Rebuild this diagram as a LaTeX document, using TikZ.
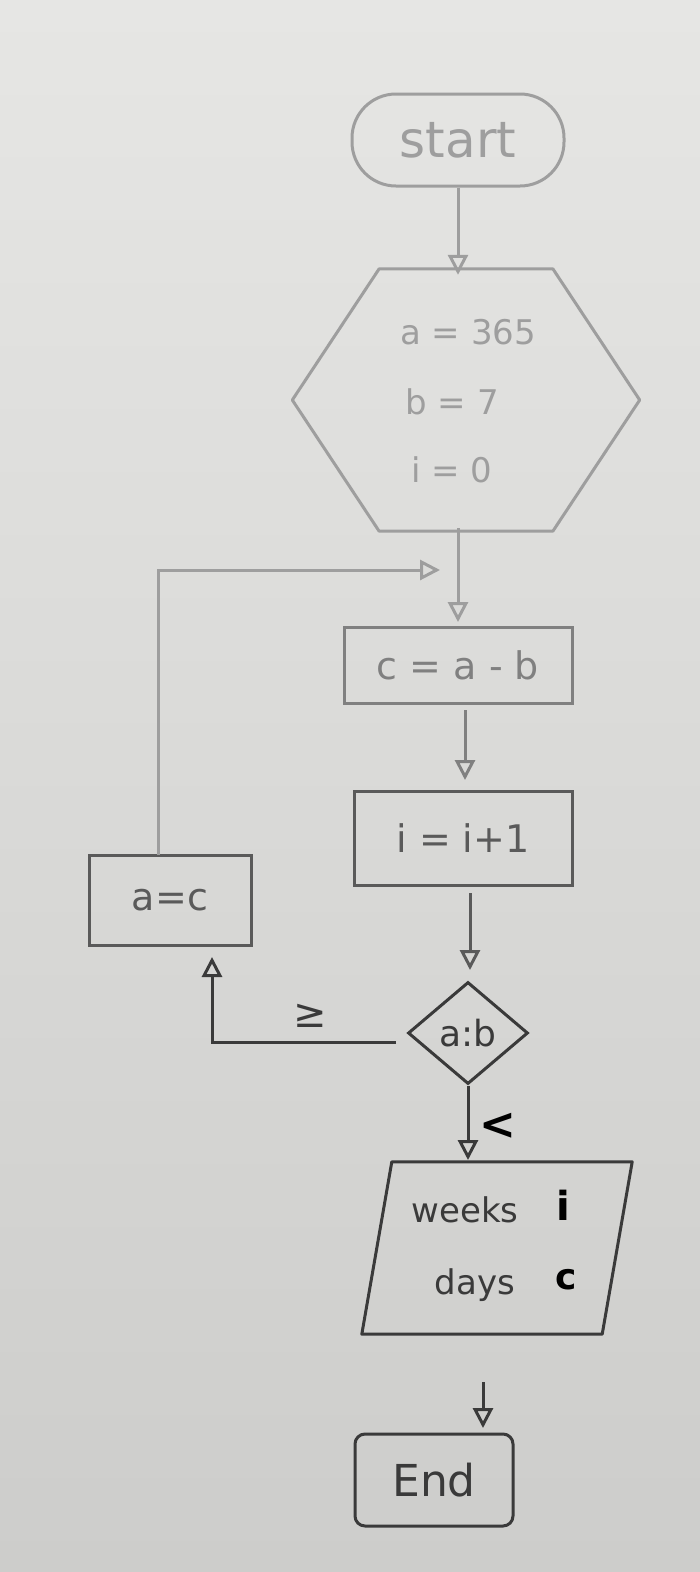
\documentclass[tikz,border=0pt]{standalone}
\usepackage{fontspec}
\setmainfont{DejaVu Sans}
\usetikzlibrary{arrows.meta,shapes.geometric,calc}
\definecolor{paper}{HTML}{E6E6E4}
\definecolor{paperdark}{HTML}{CDCDCB}
\definecolor{pencilA}{HTML}{9E9E9E}
\definecolor{pencilB}{HTML}{808080}
\definecolor{pencilC}{HTML}{5A5A5A}
\definecolor{pencilD}{HTML}{3A3A3A}
\tikzset{
  arr/.style={line width=3pt, -{Triangle[open,length=20pt,width=20pt]}},
  procbox/.style={draw, rectangle, line width=3pt, inner sep=0pt},
  lbl/.style={font=\fontsize{34}{40}\selectfont},
}
\begin{document}
\begin{tikzpicture}[x=1pt,y=-1pt]
\shade[top color=paper, bottom color=paperdark] (0,0) rectangle (700,1572);
\useasboundingbox (0,0) rectangle (700,1572);

% start
\node[draw=pencilA, text=pencilA, line width=3pt, rounded corners=44pt,
  minimum width=212pt, minimum height=92pt, font=\fontsize{50}{56}\selectfont] (start) at (458,140) {start};

% hexagon (initialisation)
\node[minimum width=347pt, minimum height=262pt, inner sep=0pt] (init) at (466,400) {};
\draw[pencilA, line width=3pt, line join=round]
  (init.west) -- ($(init.north west)!0.25!(init.north east)$) -- ($(init.north west)!0.75!(init.north east)$)
  -- (init.east) -- ($(init.south west)!0.75!(init.south east)$) -- ($(init.south west)!0.25!(init.south east)$) -- cycle;
\node[lbl, text=pencilA] (va) at (468,332) {a = 365};
\node[lbl, text=pencilA] (vb) at (452,402) {b = 7};
\node[lbl, text=pencilA] (vi) at (452,470) {i = 0};

% c = a - b
\node[procbox, draw=pencilB, text=pencilB, minimum width=228pt, minimum height=76pt,
  font=\fontsize{38}{44}\selectfont] (cab) at (458,665) {c = a - b};
% i = i + 1
\node[procbox, draw=pencilC, text=pencilC, minimum width=218pt, minimum height=94pt,
  font=\fontsize{38}{44}\selectfont] (inc) at (463,838) {i = i+1};
% a = c
\node[procbox, draw=pencilC, text=pencilC, minimum width=162pt, minimum height=90pt,
  font=\fontsize{38}{44}\selectfont] (ac) at (170,900) {a=c};
% decision
\node[draw=pencilD, text=pencilD, diamond, line width=3pt, inner sep=0pt,
  minimum width=120pt, minimum height=102pt, font=\fontsize{36}{40}\selectfont] (dec) at (468,1033) {a:b};
% output (parallelogram)
\node[minimum width=240pt, minimum height=172pt, inner sep=0pt] (out) at (497,1248) {};
\draw[pencilD, line width=3pt, line join=round]
  ([xshift=-15pt]out.south west) -- ([xshift=15pt]out.north west) -- ([xshift=15pt]out.north east)
  -- ([xshift=-15pt]out.south east) -- cycle;
\node[lbl, text=pencilD] (wk) at (465,1210) {weeks};
\node[text=black, font=\bfseries\fontsize{40}{44}\selectfont] (wki) at (563,1205) {i};
\node[lbl, text=pencilD] (dy) at (475,1285) {days};
\node[text=black, font=\bfseries\fontsize{36}{40}\selectfont] (dyc) at (566,1280) {c};
% end
\node[procbox, draw=pencilD, text=pencilD, rounded corners=10pt, minimum width=158pt, minimum height=92pt,
  font=\fontsize{44}{50}\selectfont] (endn) at (434,1480) {End};

% helper coordinates
\coordinate (hexbot) at (458,528);
\coordinate (cabtop) at (458,622);
\coordinate (join) at (440,570);
\coordinate (loopstart) at (158,855);
\coordinate (cabout) at (465,710);
\coordinate (incin) at (465,780);
\coordinate (incout) at (470,893);
\coordinate (decin) at (470,970);
\coordinate (decleft) at (396,1042);
\coordinate (acin) at (212,957);
\coordinate (ltend) at (468,1160);
\coordinate (outout) at (483,1382);
\coordinate (endin) at (483,1428);

% connectors
\draw[arr, draw=pencilA] (start.south) -- ([yshift=-6pt]start.south |- init.north);
\draw[arr, draw=pencilA] (hexbot) -- (cabtop);
\draw[arr, draw=pencilA] (loopstart) |- (join);
\draw[arr, draw=pencilB] (cabout) -- (incin);
\draw[arr, draw=pencilC] (incout) -- (decin);
\draw[arr, draw=pencilD] (decleft) -| (acin);
\node[text=pencilD, font=\fontsize{40}{44}\selectfont] (ge) at (310,1016) {≥};
\draw[arr, draw=pencilD] (dec.south) -- (ltend);
\node[text=black, font=\bfseries\fontsize{44}{48}\selectfont] (lt) at (498,1126) {<};
\draw[arr, draw=pencilD] (outout) -- (endin);
\end{tikzpicture}
\end{document}
